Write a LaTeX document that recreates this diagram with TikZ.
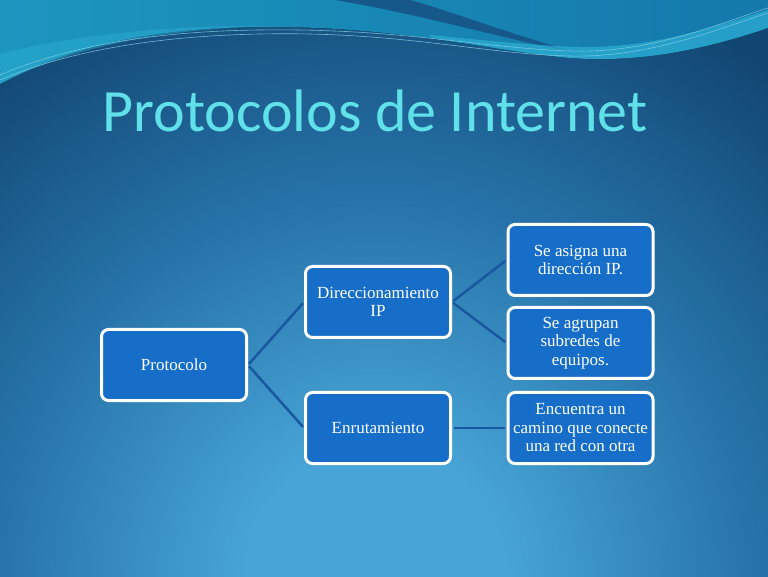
\documentclass[tikz,border=0pt]{standalone}
\usepackage{fontspec}
\setmainfont{Liberation Serif}
\newfontfamily\titlefont{Carlito}
\usepackage{tikz}
\definecolor{bgdark}{RGB}{18,70,114}
\definecolor{bgmid}{RGB}{38,114,168}
\definecolor{bglight}{RGB}{72,164,214}
\definecolor{waveteal}{RGB}{20,120,172}
\definecolor{wavecyan}{RGB}{28,150,190}
\definecolor{wavedeep}{RGB}{22,88,138}
\definecolor{wavelight}{RGB}{46,176,212}
\definecolor{boxblue}{RGB}{22,110,200}
\definecolor{linkblue}{RGB}{24,88,160}
\definecolor{titlecyan}{RGB}{96,224,232}
\pgfdeclareradialshading{slideglow}{\pgfpoint{0bp}{0bp}}{color(0bp)=(bglight); color(5bp)=(bglight); color(15bp)=(bgmid); color(25bp)=(bgdark)}

\begin{document}
\begin{tikzpicture}[
    x=1pt, y=1pt,
    box/.style={draw=white, line width=3pt, fill=boxblue, rounded corners=7pt, text=white,
        minimum width=145pt, minimum height=71pt, align=center, inner sep=2pt,
        font=\fontsize{17}{18.5}\selectfont},
    link/.style={draw=linkblue, line width=2.5pt, shorten <=1.5pt, shorten >=1.5pt},
    titletext/.style={font=\titlefont\fontsize{60}{62}\selectfont, anchor=base},
    thinwave/.style={draw=wavelight!60!white, line width=0.6pt, opacity=0.8}
]
    \useasboundingbox (0,0) rectangle (768,576);

    % Background
    \fill[bgdark] (0,0) rectangle (768,576);
    \begin{scope}
        \clip (0,0) rectangle (768,576);
        \shade[shading=slideglow] (375,0) circle (640);

        % Waves at the top
        \fill[left color=wavecyan, middle color=waveteal!85!bgdark, right color=waveteal]
            (0,576) -- (768,576) -- (768,548)
            .. controls (720,532) and (650,512) .. (570,518)
            .. controls (480,526) and (400,550) .. (260,549)
            .. controls (140,548) and (60,525) .. (0,492) -- cycle;
        \fill[wavedeep] (335,576) .. controls (430,560) and (510,535) .. (575,524)
            .. controls (510,542) and (450,565) .. (410,576) -- cycle;
        \fill[wavelight, opacity=0.7] (430,541)
            .. controls (500,534) and (540,530) .. (580,529)
            .. controls (660,528) and (720,552) .. (768,566) -- (768,548)
            .. controls (720,532) and (650,512) .. (570,518)
            .. controls (520,523) and (470,533) .. (430,539) -- cycle;
        \fill[wavelight, opacity=0.45] (0,492)
            .. controls (70,528) and (160,548) .. (280,550)
            .. controls (160,552) and (60,538) .. (0,522) -- cycle;
        \draw[thinwave] (0,496) .. controls (70,526) and (160,540) .. (260,542)
            .. controls (400,545) and (480,522) .. (570,520)
            .. controls (650,518) and (720,548) .. (768,563);
        \draw[thinwave] (0,501) .. controls (70,531) and (160,545) .. (260,546)
            .. controls (400,548) and (480,528) .. (570,525)
            .. controls (650,522) and (720,553) .. (768,568);
    \end{scope}

    % Title
    \node[titletext, text=titlecyan] (title) at (375,444) {Protocolos de Internet};

    % Boxes
    \node[box] (proto) at (174,211) {Protocolo};
    \node[box] (direc) at (378,274) {Direccionamiento\\IP};
    \node[box] (enrut) at (378,148) {Enrutamiento};
    \node[box] (asigna) at (580.5,316) {Se asigna una\\dirección IP.};
    \node[box] (agrupa) at (580.5,233) {Se agrupan\\subredes de\\equipos.};
    \node[box] (camino) at (580.5,148) {Encuentra un\\camino que conecte\\una red con otra};

    % Links
    \draw[link] (proto.east) -- (direc.west);
    \draw[link] (proto.east) -- (enrut.west);
    \draw[link] (direc.east) -- (asigna.west);
    \draw[link] (direc.east) -- (agrupa.west);
    \draw[link] (enrut.east) -- (camino.west);

\end{tikzpicture}
\end{document}
